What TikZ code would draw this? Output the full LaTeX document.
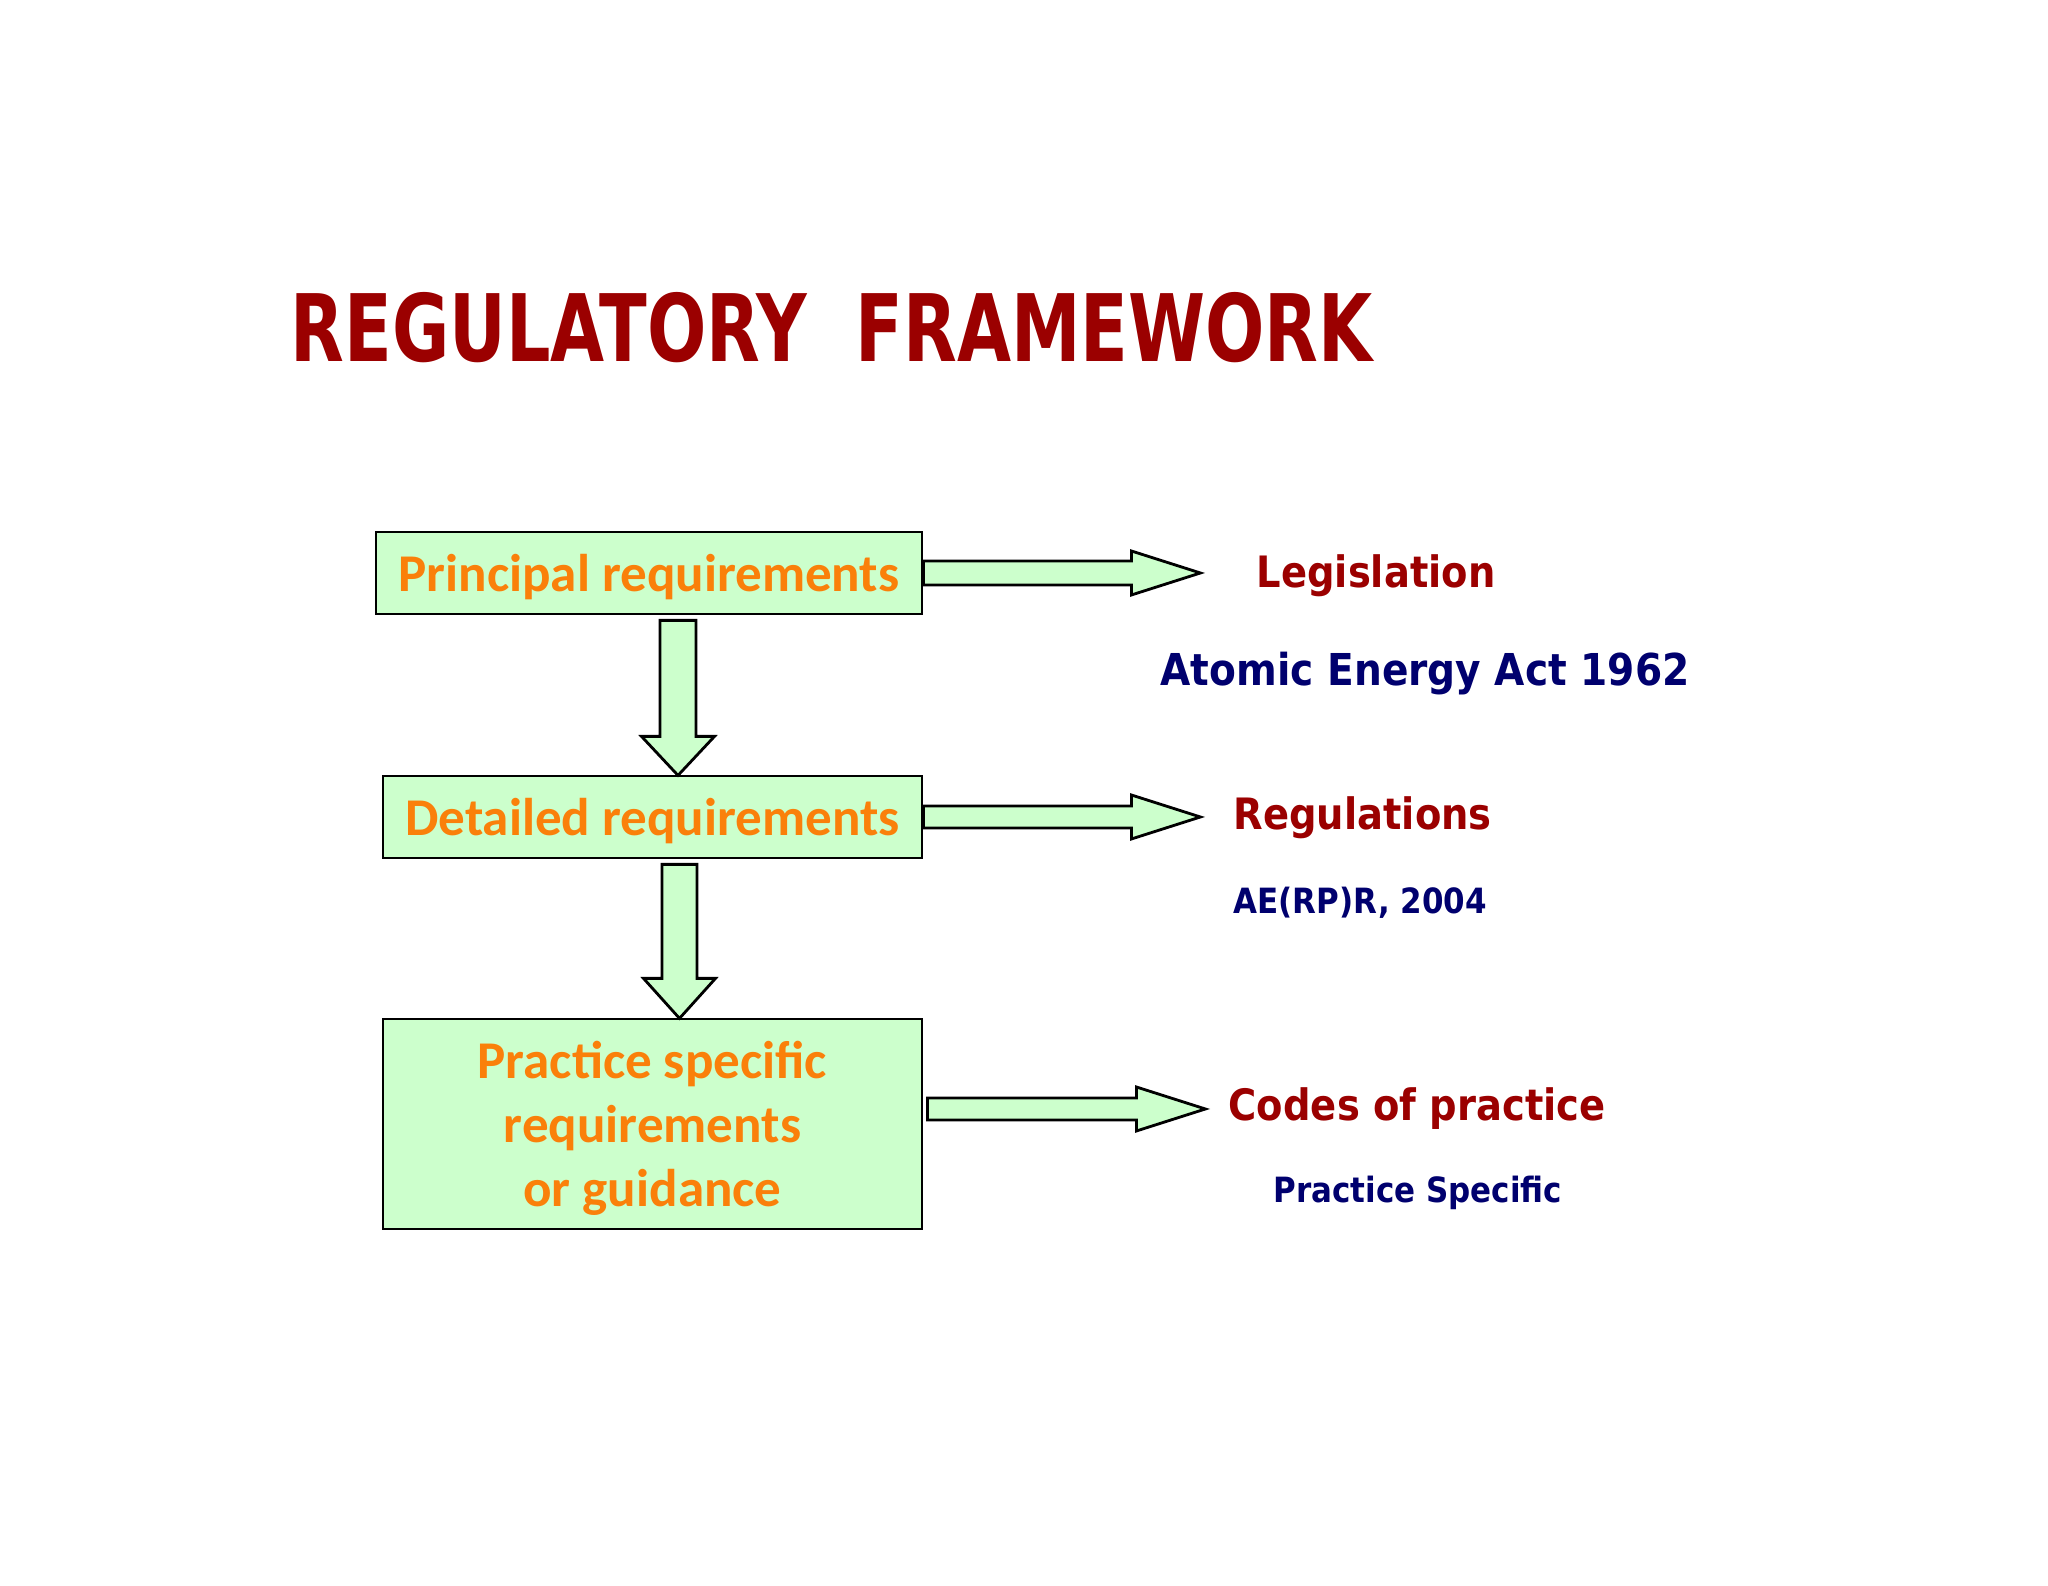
\documentclass[tikz,border=0pt]{standalone}
\usepackage{fontspec}
\setmainfont{Carlito}
\newfontfamily\verd{DejaVu Sans}
\usepackage{tikz}
\usetikzlibrary{positioning}
\definecolor{boxgreen}{RGB}{204,255,204}
\definecolor{orangetxt}{RGB}{250,128,10}
\definecolor{darkred}{RGB}{155,0,0}
\definecolor{navy}{RGB}{0,0,110}
\newcommand{\narrow}[1]{\scalebox{0.89}[1]{#1}}

\begin{document}
\begin{tikzpicture}[
box/.style={draw=black,line width=0.8pt,fill=boxgreen,align=center,inner sep=0pt,text depth=0pt,
  font=\fontsize{15.1}{18.2}\selectfont\bfseries,text=orangetxt},
blk/.style={draw=black,line width=0.8pt,fill=boxgreen,line join=miter},
head/.style={font=\verd\fontsize{12.3}{14}\selectfont\bfseries,text=darkred,anchor=base west,inner sep=0pt},
sub/.style={font=\verd\fontsize{9.9}{12}\selectfont\bfseries,text=navy,anchor=base west,inner sep=0pt}]
\useasboundingbox (0,0) rectangle (20.48,-15.86);
% title
\node[anchor=base west,inner sep=0pt,text=darkred,font=\verd\fontsize{26.5}{30}\selectfont\bfseries]
  (title) at (2.90,-3.62) {\scalebox{0.75}[1]{REGULATORY\ \ FRAMEWORK}};
% boxes
\node[box,minimum width=5.46cm,minimum height=0.82cm] (principal) at (6.49,-5.73) {Principal requirements};
\node[box,minimum width=5.39cm,minimum height=0.82cm] (detailed) at (6.525,-8.17) {Detailed requirements};
\node[box,minimum width=5.39cm,minimum height=2.10cm] (practice) at (6.525,-11.24) {Practice specific\\requirements\\or guidance};
% right texts
\node[head] (legis) at (12.56,-5.88) {\narrow{Legislation}};
\node[sub] (act) at (11.60,-6.86) {\fontsize{12.5}{14}\selectfont\narrow{Atomic Energy Act 1962}};
\node[head] (regs) at (12.33,-8.30) {\narrow{Regulations}};
\node[sub] (aerpr) at (12.33,-9.14) {\narrow{AE(RP)R, 2004}};
\node[head] (codes) at (12.28,-11.21) {\narrow{Codes of practice}};
\node[sub] (pspec) at (12.73,-12.03) {\narrow{Practice Specific}};
% block arrows to the right
\draw[blk] (principal.east) ++(0,0.12) -- ++(2.08,0) -- ++(0,0.10) -- ++(0.69,-0.22)
  -- ++(-0.69,-0.22) -- ++(0,0.10) -- ++(-2.08,0) -- cycle;
\draw[blk] (detailed.east) ++(0,0.11) -- ++(2.08,0) -- ++(0,0.11) -- ++(0.69,-0.22)
  -- ++(-0.69,-0.22) -- ++(0,0.11) -- ++(-2.08,0) -- cycle;
\draw[blk] ([xshift=0.4mm,yshift=1.5mm]practice.east) ++(0,0.11) -- ++(2.09,0) -- ++(0,0.11) -- ++(0.69,-0.22)
  -- ++(-0.69,-0.22) -- ++(0,0.11) -- ++(-2.09,0) -- cycle;
% block arrows down
\draw[blk] ([xshift=2.9mm,yshift=-0.5mm]principal.south) ++(-0.18,0) -- ++(0,-1.16) -- ++(-0.185,0)
  -- ++(0.365,-0.39) -- ++(0.365,0.39) -- ++(-0.185,0) -- ++(0,1.16) -- cycle;
\draw[blk] ([xshift=2.7mm,yshift=-0.5mm]detailed.south) ++(-0.175,0) -- ++(0,-1.14) -- ++(-0.185,0)
  -- ++(0.36,-0.40) -- ++(0.36,0.40) -- ++(-0.185,0) -- ++(0,1.14) -- cycle;
\end{tikzpicture}
\end{document}
